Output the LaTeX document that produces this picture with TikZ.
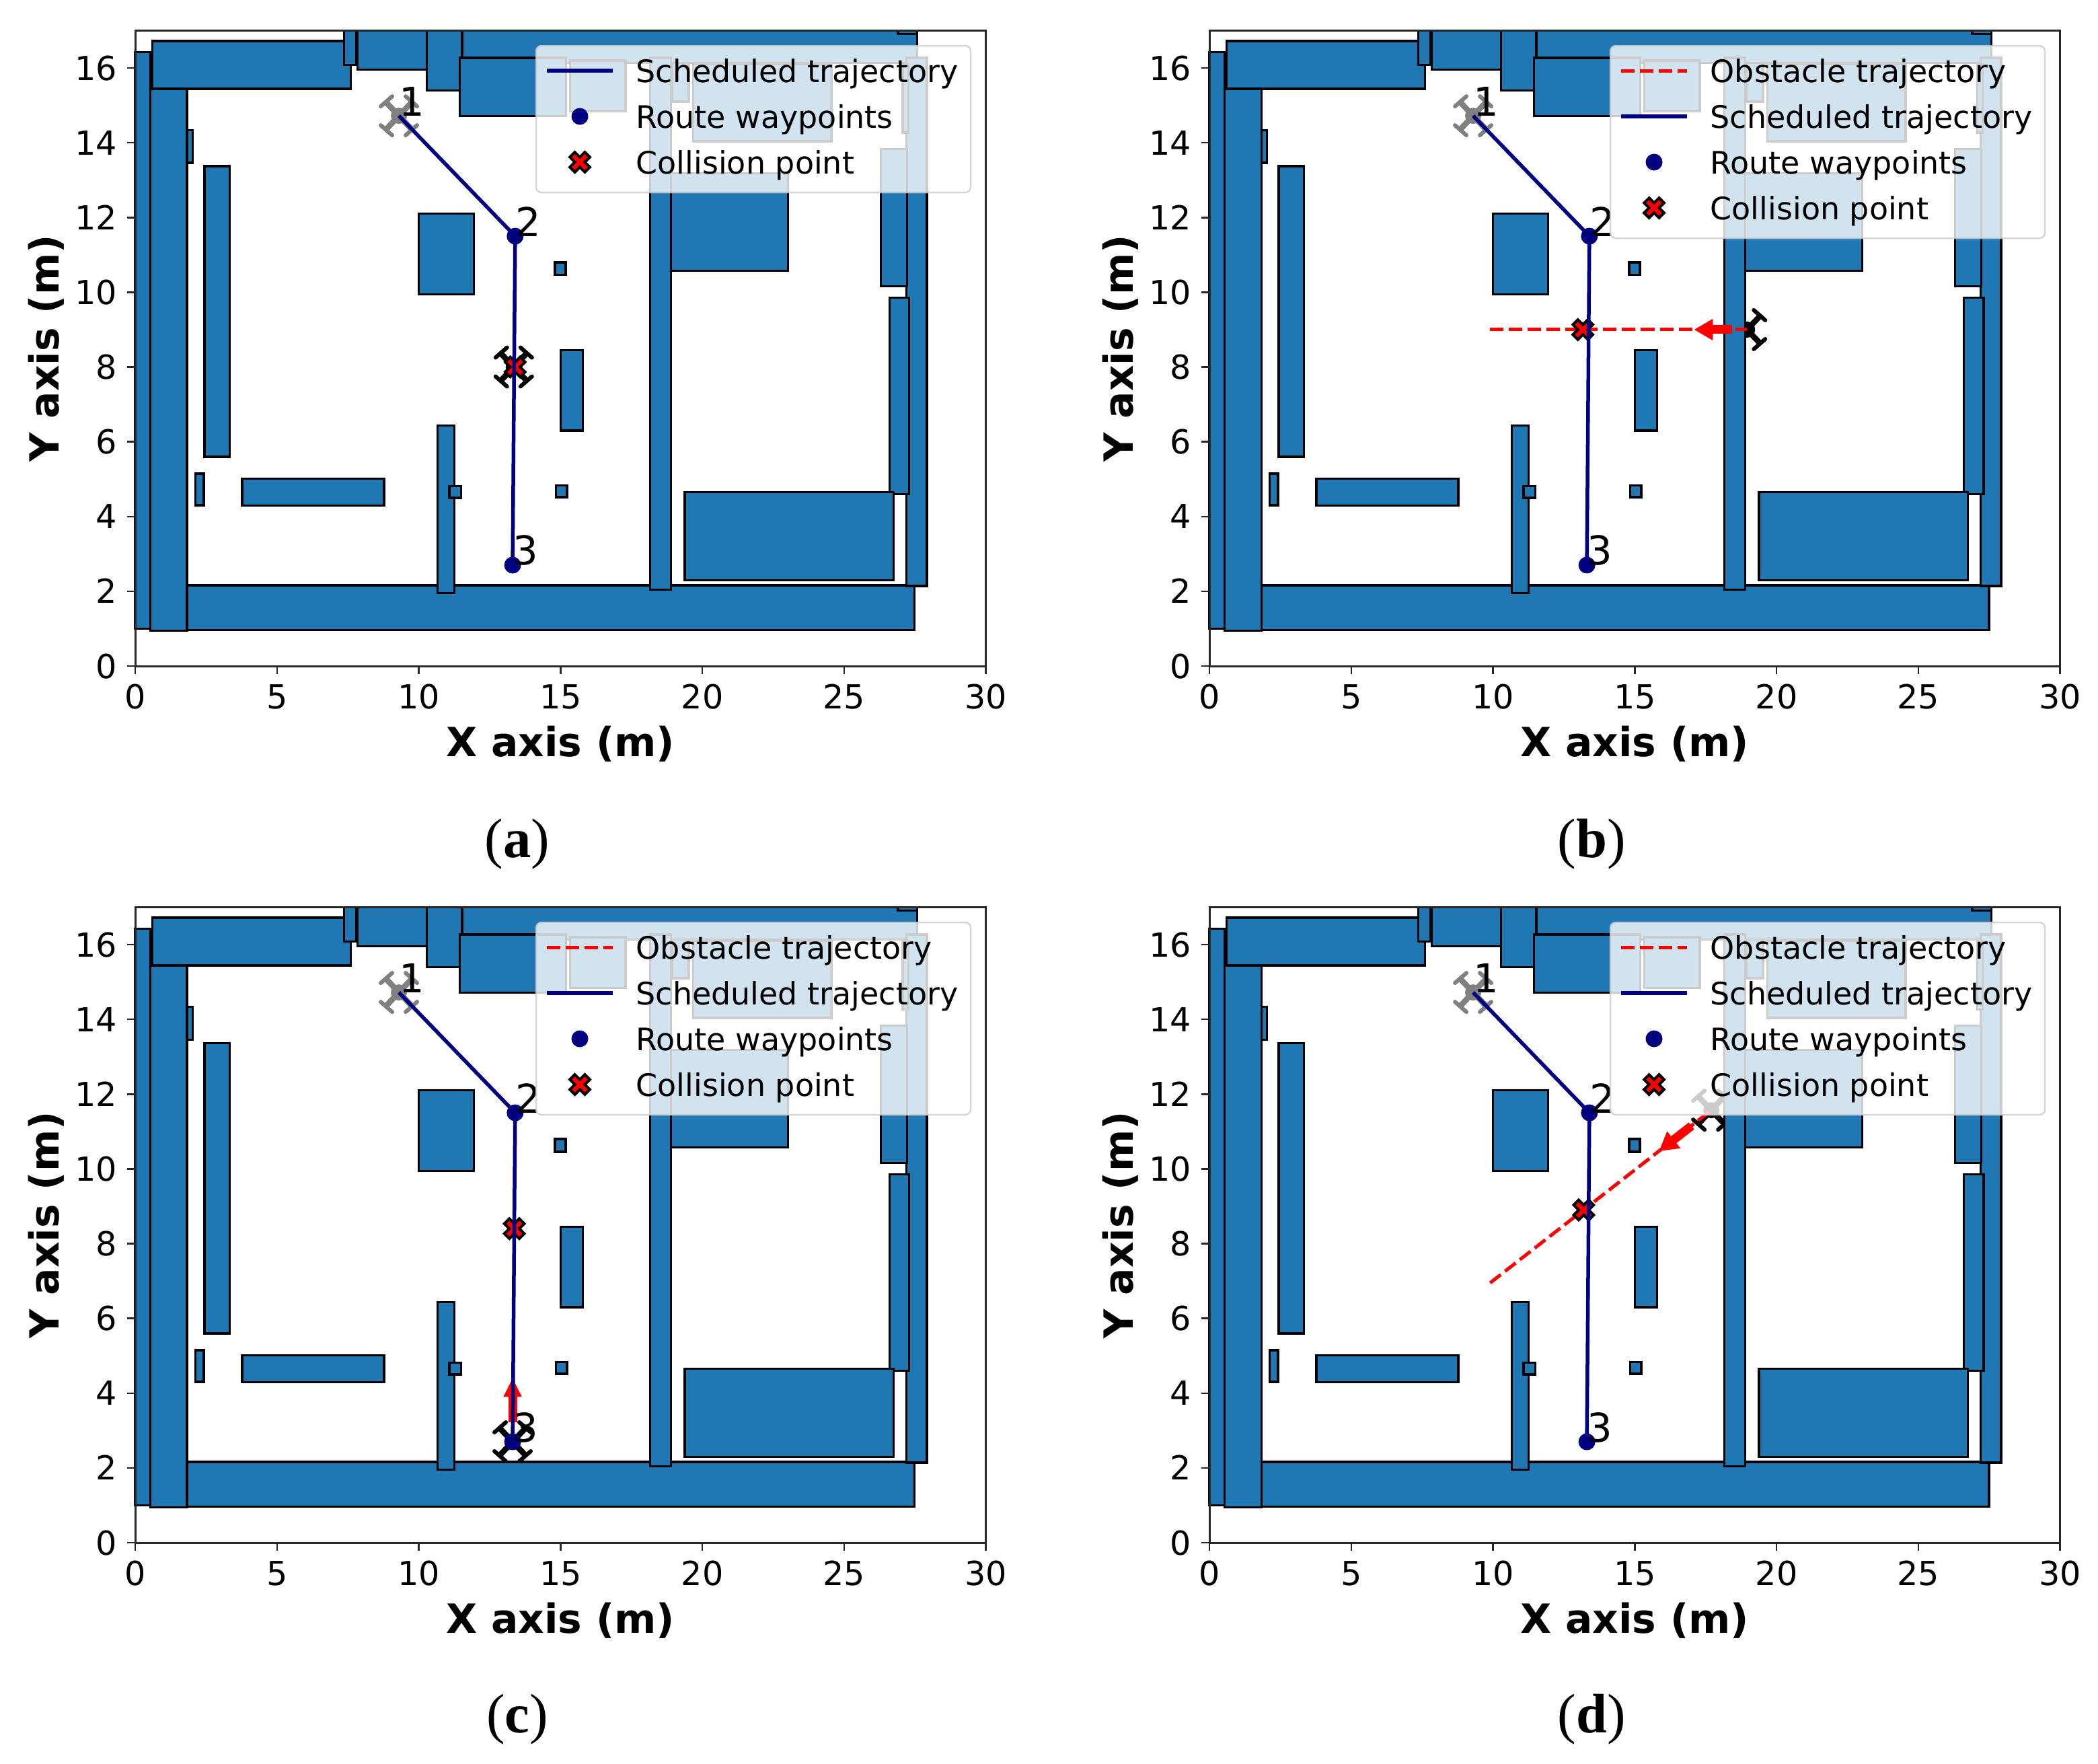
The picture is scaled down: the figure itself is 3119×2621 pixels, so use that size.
\documentclass[tikz,border=0pt]{standalone}
\usepackage{fontspec}
\setmainfont{DejaVu Sans}
\newfontfamily\capfont{Liberation Serif}
\usetikzlibrary{arrows.meta}
\definecolor{tabblue}{HTML}{1F77B4}
\definecolor{routeblue}{HTML}{000080}
\definecolor{dronegray}{HTML}{808080}
\newcommand{\tickfont}{\fontsize{14}{16}\selectfont}
\newcommand{\legfont}{\fontsize{13.07}{15}\selectfont}
\newcommand{\axlabfont}{\fontsize{17}{19}\selectfont\bfseries}
\newcommand{\wpfont}{\fontsize{16.8}{18}\selectfont}
\newcommand{\subfont}{\capfont\fontsize{23.5}{26}\selectfont}
\tikzset{
  obst/.style={fill=tabblue,draw=black,line width=0.033cm,line join=miter},
  frameline/.style={draw=black!85,line width=0.03cm},
  tickline/.style={draw=black!85,line width=0.025cm},
  ticklab/.style={font=\tickfont,inner sep=0pt},
  axlab/.style={font=\axlabfont,inner sep=0pt},
  wplab/.style={font=\wpfont,inner sep=0pt,anchor=base west},
  sublab/.style={font=\subfont,inner sep=0pt,anchor=base},
  sched/.style={draw=routeblue,line width=0.055cm},
  obstraj/.style={draw=red,line width=0.05cm,dash pattern=on 0.2cm off 0.08cm},
  wpdot/.style={fill=routeblue,draw=none},
  legbox/.style={fill=white,fill opacity=0.8,draw=black!20,draw opacity=0.8,line width=0.025cm,rounded corners=0.08cm},
  legtext/.style={font=\legfont,inner sep=0pt,anchor=base west},
  redarrow/.style={draw=red,fill=red,line width=0.13cm,-{Triangle[length=0.28cm,width=#1,fill=red]}},
  pics/drone/.style={code={
    \begin{scope}[x=0.01cm,y=0.01cm,line cap=round]
      \fill[#1] (0,0) circle (12);
      \foreach \sx/\sy in {1/1,1/-1,-1/1,-1/-1}{
        \draw[draw=#1,line width=0.085cm] (0,0) -- ({\sx*18},{\sy*19});
        \draw[draw=#1,line width=0.06cm] ({\sx*10},{\sy*29}) -- ({\sx*27},{\sy*14});
      }
    \end{scope}
  }},
  pics/cross/.style={code={
    \draw[fill=red,draw=black,line width=0.04cm,line join=miter,x=0.074cm,y=0.074cm]
      (-1,-2)--(0,-1)--(1,-2)--(2,-1)--(1,0)--(2,1)--(1,2)--(0,1)--(-1,2)--(-2,1)--(-1,0)--(-2,-1)--cycle;
  }}
}
\newcommand{\floorplan}{%
  \foreach \xa/\ya/\xb/\yb in {
    1.8/0.96/27.49/2.16,
    0/1.0/0.53/16.42,
    0.53/0.95/1.83/15.44,
    0.6/15.44/7.6/16.72,
    11.53/16.13/27.58/17,
    7.84/15.95/10.28/17,
    10.28/15.4/11.53/17,
    7.36/16.08/7.8/17,
    11.44/14.71/15.2/16.27,
    15.33/14.84/17.29/16.2,
    19.68/14.04/24.55/16.1,
    18.93/15.1/19.52/16.13,
    18.16/2.04/18.9/16.27,
    18.9/10.57/23.02/13.18,
    27.19/2.14/27.92/16.27,
    27.07/14.27/27.27/16.1,
    26.3/10.16/27.22/13.83,
    26.6/4.6/27.3/9.85,
    19.38/2.29/26.75/4.65,
    26.9/16.91/27.58/17,
    1.83/13.46/2.02/14.34,
    2.44/5.6/3.33/13.37,
    10/9.95/11.95/12.1,
    14.8/10.46/15.18/10.8,
    15/6.3/15.78/8.45,
    2.12/4.3/2.42/5.15,
    3.77/4.29/8.78/5.01,
    10.66/1.95/11.26/6.43,
    11.08/4.5/11.5/4.81,
    14.84/4.52/15.23/4.83}{
    \draw[obst] (\xa,\ya) rectangle (\xb,\yb);
  }}
\newcommand{\axesdeco}{%
  \draw[frameline] (0,0) rectangle (30,17);
  \foreach \v in {0,5,...,30}{
    \draw[tickline] (\v,0) -- ++(0cm,-0.12cm);
    \node[ticklab,anchor=base] (tx\v) at ([yshift=-0.63cm]\v,0) {\v};
  }
  \foreach \v in {0,2,...,16}{
    \draw[tickline] (0,\v) -- ++(-0.12cm,0cm);
    \node[ticklab,anchor=base east] (ty\v) at ([xshift=-0.26cm,yshift=-0.18cm]0,\v) {\v};
  }
  \node[axlab,anchor=base] (xlab) at ([yshift=-1.34cm]15,0) {X axis (m)};
  \node[axlab,anchor=base,rotate=90] (ylab) at ([xshift=-1.13cm]0,8.5) {Y axis (m)};
}
\newcommand{\route}{%
  \draw[sched] (w1) -- (w2) -- (w3);
  \fill[wpdot] (w2) circle (0.125cm);
  \fill[wpdot] (w3) circle (0.125cm);
  \node[wplab] (n1) at (w1) {1};
  \node[wplab] (n2) at (w2) {2};
  \node[wplab] (n3) at (w3) {3};
}
\newcommand{\waypoints}{%
  \coordinate (w1) at (9.3,14.72);
  \coordinate (w2) at (13.4,11.5);
  \coordinate (w3) at (13.31,2.7);
}
\newcommand{\legendthree}{%
  \draw[legbox] (797,68) rectangle (1443,286);
  \coordinate (ha) at (813,105); \coordinate (hb) at (911,105);
  \draw[sched] (ha) -- (hb);
  \fill[wpdot] (862,173) circle (0.125cm);
  \pic at (862,241) {cross};
  \node[legtext] (l1) at (945,122) {Scheduled trajectory};
  \node[legtext] (l2) at (945,190) {Route waypoints};
  \node[legtext] (l3) at (945,258) {Collision point};
}
\newcommand{\legendfour}{%
  \draw[legbox] (797,68) rectangle (1443,354);
  \coordinate (hc) at (813,105); \coordinate (hd) at (911,105);
  \draw[obstraj] (hc) -- (hd);
  \coordinate (ha) at (813,173); \coordinate (hb) at (911,173);
  \draw[sched] (ha) -- (hb);
  \fill[wpdot] (862,241) circle (0.125cm);
  \pic at (862,309) {cross};
  \node[legtext] (l0) at (945,122) {Obstacle trajectory};
  \node[legtext] (l1) at (945,190) {Scheduled trajectory};
  \node[legtext] (l2) at (945,258) {Route waypoints};
  \node[legtext] (l3) at (945,326) {Collision point};
}
\newenvironment{dataframe}{\begin{scope}[shift={(201,990)},x=0.4213cm,y=0.5553cm]}{\end{scope}}
\begin{document}
\begin{tikzpicture}[x=0.01cm,y=-0.01cm]
\useasboundingbox (0,0) rectangle (3119,2621);
% ---------- panel a
\begin{scope}[name prefix=a-]
\begin{dataframe}
  \waypoints
  \coordinate (hit) at (13.4,8);
  \pic at (w1) {drone=dronegray};
  \pic at (13.35,8.0) {drone=black};
  \floorplan
  \axesdeco
  \pic at (hit) {cross};
  \route
\end{dataframe}
\legendthree
\node[sublab] (cap) at (769,1274) {(\textbf{a})};
\end{scope}
% ---------- panel b
\begin{scope}[shift={(1597,0)},name prefix=b-]
\begin{dataframe}
  \waypoints
  \coordinate (hit) at (13.17,9);
  \coordinate (start) at (18.96,9);
  \coordinate (end) at (9.9,9);
  \coordinate (tail) at (18.44,9);
  \coordinate (tip) at (17.09,9);
  \pic at (w1) {drone=dronegray};
  \pic at (start) {drone=black};
  \floorplan
  \axesdeco
  \draw[obstraj] (end) -- (start);
  \pic at (hit) {cross};
  \route
  \draw[redarrow=0.3cm] (tail) -- (tip);
\end{dataframe}
\legendfour
\node[sublab] (cap) at (769,1274) {(\textbf{b})};
\end{scope}
% ---------- panel c
\begin{scope}[shift={(0,1303)},name prefix=c-]
\begin{dataframe}
  \waypoints
  \coordinate (hit) at (13.37,8.4);
  \coordinate (tail) at (13.31,3.22);
  \coordinate (tip) at (13.31,4.41);
  \pic at (w1) {drone=dronegray};
  \pic at (w3) {drone=black};
  \floorplan
  \axesdeco
  \draw[redarrow=0.25cm] (tail) -- (tip);
  \pic at (hit) {cross};
  \route
\end{dataframe}
\legendfour
\node[sublab] (cap) at (769,1272) {(\textbf{c})};
\end{scope}
% ---------- panel d
\begin{scope}[shift={(1597,1303)},name prefix=d-]
\begin{dataframe}
  \waypoints
  \coordinate (hit) at (13.2,8.9);
  \coordinate (start) at (17.7,11.57);
  \coordinate (end) at (9.9,6.95);
  \coordinate (tail) at (17.0,11.15);
  \coordinate (tip) at (15.85,10.47);
  \pic at (w1) {drone=dronegray};
  \pic at (start) {drone=black};
  \floorplan
  \axesdeco
  \draw[obstraj] (end) -- (start);
  \pic at (hit) {cross};
  \route
  \draw[redarrow=0.3cm] (tail) -- (tip);
\end{dataframe}
\legendfour
\node[sublab] (cap) at (769,1272) {(\textbf{d})};
\end{scope}
\end{tikzpicture}
\end{document}
